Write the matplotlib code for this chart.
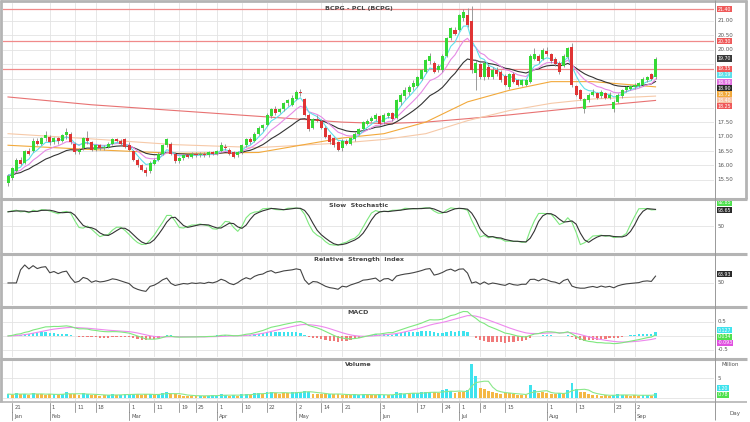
import numpy as np
import pandas as pd
import matplotlib
matplotlib.use("Agg")
import matplotlib.pyplot as plt
from matplotlib.lines import Line2D
import matplotlib.transforms as mtrans

plt.rcParams['font.family'] = ['DejaVu Sans']

# ---------------- data ----------------
opens = [15.40, 15.55, 15.80, 16.20, 16.10, 16.50, 16.50, 16.85, 16.75, 16.95,
         17.00, 16.80, 16.95, 16.85, 17.05, 17.10, 16.75, 16.45, 16.60, 16.95,
         16.80, 16.55, 16.70, 16.60, 16.65, 16.75, 16.90, 16.85, 16.90, 16.70,
         16.50, 16.20, 16.00, 15.85, 15.80, 16.05, 16.20, 16.40, 16.70, 16.75,
         16.40, 16.15, 16.25, 16.35, 16.30, 16.40, 16.35, 16.40, 16.35, 16.45,
         16.40, 16.50, 16.65, 16.55, 16.45, 16.35, 16.45, 16.70, 16.90, 16.85,
         17.10, 17.30, 17.40, 17.70, 17.95, 17.85, 17.95, 18.15, 18.10, 18.30,
         18.55, 18.30, 17.75, 17.30, 17.60, 17.55, 17.30, 17.05, 16.95, 16.80,
         16.60, 16.85, 16.75, 16.90, 17.10, 17.25, 17.45, 17.55, 17.60, 17.70,
         17.50, 17.70, 17.80, 17.65, 18.20, 18.40, 18.55, 18.70, 18.75, 19.00,
         19.25, 19.60, 19.55, 19.30, 19.30, 19.80, 20.40, 20.70, 20.70, 21.10,
         21.20, 21.00, 19.20, 19.50, 19.05, 19.40, 19.05, 19.30, 19.25, 19.10,
         18.70, 19.15, 18.95, 18.80, 18.80, 18.90, 19.70, 19.80, 19.70, 19.95,
         19.85, 19.70, 19.55, 19.45, 19.75, 20.10, 18.75, 18.60, 17.95, 18.25,
         18.45, 18.50, 18.40, 18.50, 18.35, 17.95, 18.20, 18.40, 18.60, 18.65,
         18.70, 18.75, 18.80, 18.95, 19.15, 19.05]
highs = [15.70, 15.95, 16.25, 16.30, 16.55, 16.60, 16.95, 16.95, 17.00, 17.20,
         17.05, 17.00, 17.00, 17.10, 17.30, 17.15, 16.80, 16.60, 17.00, 17.20,
         16.85, 16.75, 16.75, 16.70, 16.80, 16.95, 16.95, 16.90, 16.95, 16.80,
         16.55, 16.25, 16.05, 15.95, 16.15, 16.25, 16.45, 16.75, 16.95, 16.80,
         16.45, 16.30, 16.40, 16.40, 16.45, 16.45, 16.45, 16.45, 16.50, 16.50,
         16.55, 16.80, 16.75, 16.60, 16.50, 16.50, 16.75, 16.95, 17.00, 17.15,
         17.35, 17.45, 17.80, 18.00, 18.05, 18.00, 18.20, 18.30, 18.45, 18.60,
         18.65, 18.35, 17.80, 17.65, 17.75, 17.60, 17.35, 17.10, 17.00, 16.85,
         16.90, 16.90, 17.00, 17.15, 17.30, 17.55, 17.60, 17.70, 17.80, 17.75,
         17.80, 17.85, 17.85, 18.30, 18.50, 18.70, 18.80, 18.95, 19.10, 19.35,
         19.70, 19.90, 19.60, 19.50, 19.85, 20.45, 20.80, 20.80, 21.25, 21.40,
         21.45, 21.50, 19.65, 19.55, 19.60, 19.50, 19.40, 19.40, 19.30, 19.15,
         19.20, 19.25, 19.00, 19.00, 19.00, 19.85, 20.05, 19.85, 20.05, 20.10,
         19.90, 19.75, 19.60, 19.85, 20.10, 20.25, 18.80, 18.65, 18.35, 18.50,
         18.65, 18.55, 18.60, 18.55, 18.55, 18.25, 18.50, 18.65, 18.75, 18.80,
         18.85, 18.90, 19.05, 19.10, 19.20, 19.75]
lows = [15.30, 15.50, 15.75, 16.00, 16.05, 16.35, 16.45, 16.70, 16.70, 16.85,
        16.70, 16.75, 16.75, 16.80, 16.90, 16.75, 16.40, 16.40, 16.55, 16.75,
        16.50, 16.50, 16.55, 16.55, 16.60, 16.70, 16.80, 16.70, 16.60, 16.50,
        16.15, 15.95, 15.80, 15.65, 15.75, 16.00, 16.15, 16.35, 16.65, 16.35,
        16.10, 16.10, 16.20, 16.25, 16.25, 16.30, 16.30, 16.30, 16.30, 16.35,
        16.35, 16.45, 16.55, 16.35, 16.25, 16.30, 16.40, 16.65, 16.75, 16.80,
        17.05, 17.20, 17.35, 17.65, 17.75, 17.80, 17.90, 18.05, 18.05, 18.25,
        18.40, 17.70, 17.20, 17.25, 17.50, 17.25, 16.95, 16.75, 16.65, 16.50,
        16.50, 16.70, 16.70, 16.85, 17.05, 17.20, 17.40, 17.50, 17.55, 17.40,
        17.45, 17.65, 17.55, 17.60, 18.10, 18.30, 18.45, 18.60, 18.70, 18.95,
        19.20, 19.50, 19.20, 19.25, 19.25, 19.75, 20.35, 20.50, 20.65, 21.00,
        20.80, 19.20, 18.60, 19.00, 18.95, 19.00, 19.00, 19.10, 18.90, 18.75,
        18.65, 18.85, 18.75, 18.75, 18.75, 18.85, 19.65, 19.55, 19.65, 19.80,
        19.55, 19.45, 19.15, 19.40, 19.70, 18.70, 18.40, 18.25, 17.80, 18.20,
        18.40, 18.30, 18.35, 18.30, 18.30, 17.85, 18.15, 18.35, 18.55, 18.60,
        18.65, 18.70, 18.75, 18.90, 18.95, 19.00]
closes = [15.65, 15.90, 16.20, 16.05, 16.50, 16.40, 16.85, 16.75, 16.95, 17.05,
          16.80, 16.95, 16.85, 17.05, 17.15, 16.80, 16.45, 16.55, 16.95, 16.85,
          16.55, 16.70, 16.60, 16.65, 16.75, 16.90, 16.85, 16.75, 16.65, 16.55,
          16.20, 16.00, 15.85, 15.75, 16.10, 16.20, 16.40, 16.70, 16.90, 16.40,
          16.15, 16.25, 16.35, 16.30, 16.40, 16.35, 16.40, 16.35, 16.45, 16.40,
          16.50, 16.70, 16.60, 16.40, 16.30, 16.45, 16.70, 16.90, 16.80, 17.10,
          17.30, 17.40, 17.75, 17.95, 17.80, 17.95, 18.15, 18.25, 18.35, 18.55,
          18.50, 17.75, 17.25, 17.60, 17.55, 17.30, 17.00, 16.80, 16.70, 16.55,
          16.85, 16.75, 16.95, 17.10, 17.25, 17.50, 17.55, 17.65, 17.75, 17.45,
          17.75, 17.80, 17.60, 18.25, 18.45, 18.60, 18.70, 18.85, 19.05, 19.30,
          19.65, 19.80, 19.25, 19.45, 19.80, 20.40, 20.75, 20.55, 21.20, 21.30,
          20.85, 19.30, 19.55, 19.05, 19.55, 19.05, 19.30, 19.15, 18.95, 18.80,
          19.15, 18.90, 18.80, 18.95, 18.95, 19.80, 19.85, 19.60, 20.00, 19.85,
          19.60, 19.50, 19.25, 19.80, 20.05, 18.80, 18.45, 18.30, 18.30, 18.45,
          18.55, 18.35, 18.55, 18.35, 18.45, 18.20, 18.45, 18.60, 18.70, 18.75,
          18.80, 18.85, 19.00, 19.05, 19.00, 19.70]
volumes = [1.0, 0.8, 1.2, 0.9, 1.1, 0.8, 1.3, 0.9, 1.0, 0.8,
           0.9, 1.0, 0.8, 1.1, 1.4, 0.9, 1.0, 0.8, 1.2, 1.0,
           0.8, 0.7, 0.6, 0.7, 0.8, 0.9, 0.7, 0.8, 1.0, 0.9,
           1.1, 0.9, 0.8, 0.9, 1.0, 0.8, 0.9, 1.3, 1.5, 1.0,
           0.9, 0.7, 0.6, 0.5, 0.6, 0.5, 0.6, 0.5, 0.6, 0.7,
           0.6, 0.9, 0.7, 0.6, 0.8, 0.6, 0.9, 1.1, 0.8, 1.2,
           1.3, 1.0, 1.5, 1.6, 1.2, 1.1, 1.3, 1.2, 1.4, 1.6,
           1.5, 1.8, 1.6, 1.0, 0.9, 1.0, 1.1, 1.0, 0.9, 1.0,
           0.8, 0.7, 0.8, 0.9, 0.8, 1.0, 0.8, 0.7, 0.8, 0.9,
           0.8, 0.7, 0.8, 1.4, 1.3, 1.1, 1.0, 1.2, 1.3, 1.4,
           1.6, 1.5, 1.4, 1.2, 1.9, 2.2, 1.8, 1.2, 1.6, 1.5,
           1.9, 8.6, 5.6, 2.6, 2.3, 1.8, 1.4, 1.2, 1.1, 1.3,
           1.2, 0.9, 0.8, 0.7, 0.8, 3.2, 2.0, 1.3, 1.4, 1.2,
           1.0, 1.1, 1.3, 1.0, 2.0, 3.7, 2.2, 1.6, 1.4, 1.0,
           0.8, 0.7, 0.6, 0.7, 0.6, 0.8, 0.9, 0.8, 0.7, 0.6,
           0.7, 0.6, 0.8, 0.7, 0.6, 1.2]

ma_long_idx = [0, 20, 40, 60, 80, 90, 100, 110, 120, 130, 140, 155]
ma_orange = [16.70, 16.55, 16.42, 16.45, 16.95, 17.10, 17.50, 18.20, 18.60, 18.90, 18.90, 18.72]
ma_peach = [17.10, 16.92, 16.72, 16.62, 16.78, 16.90, 17.10, 17.55, 17.90, 18.15, 18.30, 18.40]
ma_red = [18.37, 18.10, 17.90, 17.70, 17.50, 17.45, 17.50, 17.62, 17.75, 17.90, 18.05, 18.25]

levels = [21.40, 20.30, 19.35]

tick_idx = [1, 10, 16, 21, 29, 35, 41, 45, 50, 56, 62, 69, 75, 80, 89, 98, 104, 108, 113, 119, 129, 136, 145, 150]
tick_days = ["21", "1", "11", "18", "1", "11", "19", "25", "1", "10", "22", "2",
             "14", "21", "3", "17", "24", "1", "8", "15", "1", "13", "23", "2"]
month_idx = [1, 10, 29, 50, 69, 89, 108, 129, 150]
month_names = ["Jan", "Feb", "Mar", "Apr", "May", "Jun", "Jul", "Aug", "Sep"]

title = "BCPG - PCL (BCPG)"

# ---------------- indicators ----------------
o = np.array(opens); h = np.array(highs); l = np.array(lows); c = np.array(closes)
v = np.array(volumes)
x = np.arange(len(c))
cs = pd.Series(c)
ema5 = cs.ewm(span=5, adjust=False).mean()
ema10 = cs.ewm(span=10, adjust=False).mean()
ema20 = cs.ewm(span=20, adjust=False).mean()

ll = pd.Series(l).rolling(14, min_periods=1).min()
hh = pd.Series(h).rolling(14, min_periods=1).max()
fastk = 100 * (cs - ll) / (hh - ll)
slowk = fastk.rolling(3, min_periods=1).mean()
slowd = slowk.rolling(3, min_periods=1).mean()

d = cs.diff().fillna(0)
gain = d.clip(lower=0).ewm(alpha=1/14, adjust=False).mean()
loss = (-d.clip(upper=0)).ewm(alpha=1/14, adjust=False).mean()
rsi = 100 - 100 / (1 + gain / loss.replace(0, np.nan))
rsi = rsi.fillna(50)

ema12 = cs.ewm(span=12, adjust=False).mean()
ema26 = cs.ewm(span=26, adjust=False).mean()
macd = ema12 - ema26
signal = macd.ewm(span=9, adjust=False).mean()
hist = macd - signal

vs = pd.Series(v)
vma = vs.rolling(5, min_periods=1).mean()

# ---------------- figure ----------------
W, H = 750, 422
fig = plt.figure(figsize=(W / 100, H / 100), dpi=100)
fig.patch.set_facecolor('white')
XL = (-1.2, 169)
GRID = '#e3e3e3'


def add_ax(x0, y0, x1, y1):
    ax = fig.add_axes([x0 / W, 1 - y1 / H, (x1 - x0) / W, (y1 - y0) / H])
    for s in ax.spines.values():
        s.set_visible(False)
    ax.set_xlim(*XL)
    ax.tick_params(left=False, bottom=False, right=False, top=False,
                   labelleft=False, labelbottom=False)
    for t in tick_idx:
        ax.axvline(t, color=GRID, lw=0.6, zorder=0)
    return ax


ax_p = add_ax(3, 3, 714, 197)
ax_s = add_ax(3, 201, 714, 252)
ax_r = add_ax(3, 256, 714, 305)
ax_m = add_ax(3, 309, 714, 357)
ax_v = add_ax(3, 361, 714, 401)


def rlab(ax, y, txt, color='#555555', fs=4.0):
    tr = mtrans.blended_transform_factory(ax.transAxes, ax.transData)
    ax.text(1.005, y, txt, transform=tr, fontsize=fs, color=color,
            va='center', ha='left', clip_on=False)


def vbox(ax, yfrac, txt, fc, tc='white'):
    ax.text(1.005, yfrac, txt, transform=ax.transAxes, fontsize=3.4, color=tc,
            va='center', ha='left', clip_on=False, zorder=10,
            bbox=dict(boxstyle='square,pad=0.12', fc=fc, ec='none'))


# price panel
ax_p.set_ylim(14.91, 21.62)
for yv in np.arange(15.5, 21.01, 0.5):
    ax_p.axhline(yv, color=GRID, lw=0.6, zorder=0)
    if yv < 17.9 or yv > 19.9:
        rlab(ax_p, yv, f"{yv:.2f}")
for lv in levels:
    ax_p.axhline(lv, color='#f08a8a', lw=0.9, zorder=1)
ax_p.plot(ma_long_idx, ma_red, color='#e87272', lw=0.8, zorder=2)
ax_p.plot(ma_long_idx, ma_peach, color='#f6c9a8', lw=0.8, zorder=2)
ax_p.plot(ma_long_idx, ma_orange, color='#f2a93b', lw=0.8, zorder=2)
ax_p.plot(x, ema20, color='#333333', lw=0.8, zorder=2)
ax_p.plot(x, ema10, color='#e58ae5', lw=0.8, zorder=2)
ax_p.plot(x, ema5, color='#5fe0ea', lw=0.8, zorder=2)
up = c >= o
ax_p.vlines(x, l, h, color='#8a8a8a', lw=0.6, zorder=3)
ax_p.bar(x, np.maximum(np.abs(c - o), 0.025), bottom=np.minimum(o, c), width=0.72,
         color=np.where(up, '#36d936', '#e03434'), zorder=4, linewidth=0)
ax_p.text(0.5, 0.985, title, transform=ax_p.transAxes, fontsize=4.6, fontweight='bold',
          color='#444444', ha='center', va='top')


def pfrac(ypix, top, bot):
    return (bot - ypix) / (bot - top)


def price_frac(val):
    lo, hi = ax_p.get_ylim()
    return (val - lo) / (hi - lo)


vbox(ax_p, price_frac(levels[0]), f"{levels[0]:.2f}", '#ef5a5a')
vbox(ax_p, price_frac(levels[1]), f"{levels[1]:.2f}", '#ef5a5a')
vbox(ax_p, price_frac(c[-1]), f"{c[-1]:.2f}", '#3a3a3a')
vbox(ax_p, price_frac(levels[2]), f"{levels[2]:.2f}", '#ef5a5a')
stack = [(75, ema5.iloc[-1], '#5fe0ea'), (82, ema10.iloc[-1], '#e070e0'),
         (88, ema20.iloc[-1], '#2a2a2a'), (94, ma_orange[-1], '#f2a93b'),
         (100, ma_peach[-1], '#f6c0a0'), (106, ma_red[-1], '#ef5a5a')]
for yp, val, fc in stack:
    vbox(ax_p, pfrac(yp, 3, 197), f"{val:.2f}", fc)

# stochastic panel
ax_s.set_ylim(-15, 115)
ax_s.axhline(50, color=GRID, lw=0.6, zorder=0)
ax_s.plot(x, slowk, color='#7ee87e', lw=0.8)
ax_s.plot(x, slowd, color='#333333', lw=0.8)
ax_s.text(0.5, 0.97, "Slow  Stochastic", transform=ax_s.transAxes, fontsize=4.6,
          fontweight='bold', color='#444444', ha='center', va='top')
rlab(ax_s, 50, "50")
vbox(ax_s, pfrac(203, 201, 252), f"{slowk.iloc[-1]:.2f}", '#4ee04e')
vbox(ax_s, pfrac(210, 201, 252), f"{slowd.iloc[-1]:.2f}", '#2a2a2a')

# RSI panel
ax_r.set_ylim(5, 105)
ax_r.axhline(50, color=GRID, lw=0.6, zorder=0)
ax_r.plot(x, rsi, color='#444444', lw=0.8)
ax_r.text(0.5, 0.97, "Relative  Strength  Index", transform=ax_r.transAxes, fontsize=4.6,
          fontweight='bold', color='#444444', ha='center', va='top')
rlab(ax_r, 50, "50")
vbox(ax_r, pfrac(274, 256, 305), f"{rsi.iloc[-1]:.2f}", '#2a2a2a')

# MACD panel
ax_m.set_ylim(-0.75, 0.96)
for yv in (-0.5, 0, 0.5):
    ax_m.axhline(yv, color=GRID, lw=0.6, zorder=0)
ax_m.bar(x, hist, width=0.55, color=np.where(hist >= 0, '#3fe3ee', '#f07a7a'), linewidth=0)
ax_m.plot(x, signal, color='#ee88ee', lw=0.8)
ax_m.plot(x, macd, color='#7ee87e', lw=0.8)
ax_m.text(0.5, 0.97, "MACD", transform=ax_m.transAxes, fontsize=4.6,
          fontweight='bold', color='#444444', ha='center', va='top')
rlab(ax_m, 0.5, "0.5")
rlab(ax_m, -0.5, "-0.5")
vbox(ax_m, pfrac(330, 309, 357), f"{hist.iloc[-1]:.3f}", '#3fe3ee')
vbox(ax_m, pfrac(337, 309, 357), f"{macd.iloc[-1]:.3f}", '#4ee04e')
vbox(ax_m, pfrac(343, 309, 357), f"{signal.iloc[-1]:.3f}", '#e050e0')

# volume panel
ax_v.set_ylim(-0.75, 9.25)
for yv in (0, 5):
    ax_v.axhline(yv, color=GRID, lw=0.6, zorder=0)
vcol = np.where(v >= vma.values, '#3fe3ee', '#f4b846')
ax_v.bar(x, v, width=0.7, color=vcol, linewidth=0, zorder=2)
ax_v.plot(x, vma, color='#8be88b', lw=0.8, zorder=3)
ax_v.text(0.5, 0.97, "Volume", transform=ax_v.transAxes, fontsize=4.6,
          fontweight='bold', color='#444444', ha='center', va='top')
ax_v.text(1.01, 0.92, "Million", transform=ax_v.transAxes, fontsize=4.0, color='#555555',
          ha='left', va='center', clip_on=False)
rlab(ax_v, 5, "5")
vbox(ax_v, pfrac(388, 361, 401), f"{v[-1]:.2f}", '#3fe3ee')
vbox(ax_v, pfrac(395, 361, 401), f"{vma.iloc[-1]:.2f}", '#4ee04e')

# date axis
trd = mtrans.blended_transform_factory(ax_v.transData, ax_v.transAxes)
for t, lab in zip(tick_idx, tick_days):
    ax_v.plot([t, t], [-0.05, -0.28], transform=trd, color='#777777', lw=0.5, clip_on=False)
    ax_v.text(t + 0.5, -0.17, lab, transform=trd, fontsize=3.8, color='#555555',
              ha='left', va='center', clip_on=False)
for t, lab in zip(month_idx, month_names):
    ax_v.plot([t, t], [-0.28, -0.48], transform=trd, color='#777777', lw=0.5, clip_on=False)
    ax_v.text(t + 0.5, -0.38, lab, transform=trd, fontsize=3.8, color='#555555',
              ha='left', va='center', clip_on=False)
fig.text(735 / W, 1 - 413 / H, "Day", fontsize=4.0, color='#555555', ha='center', va='center')


# frame / separators
def fline(x0, y0, x1, y1, color='#b4b4b4', lw=2.0):
    fig.add_artist(Line2D([x0 / W, x1 / W], [1 - y0 / H, 1 - y1 / H], transform=fig.transFigure,
                          color=color, lw=lw, solid_capstyle='butt'))


fline(0, 1, 747, 1)
fline(1, 0, 1, 402)
fline(746, 0, 746, 199)
for ys in (199, 254, 307, 359):
    fline(0, ys, 747, ys, lw=2.2)
fline(0, 402, 747, 402, lw=1.2)
fline(714.5, 0, 714.5, 420, color='#999999', lw=0.7)

fig.savefig("out.png", dpi=100, facecolor='white')
